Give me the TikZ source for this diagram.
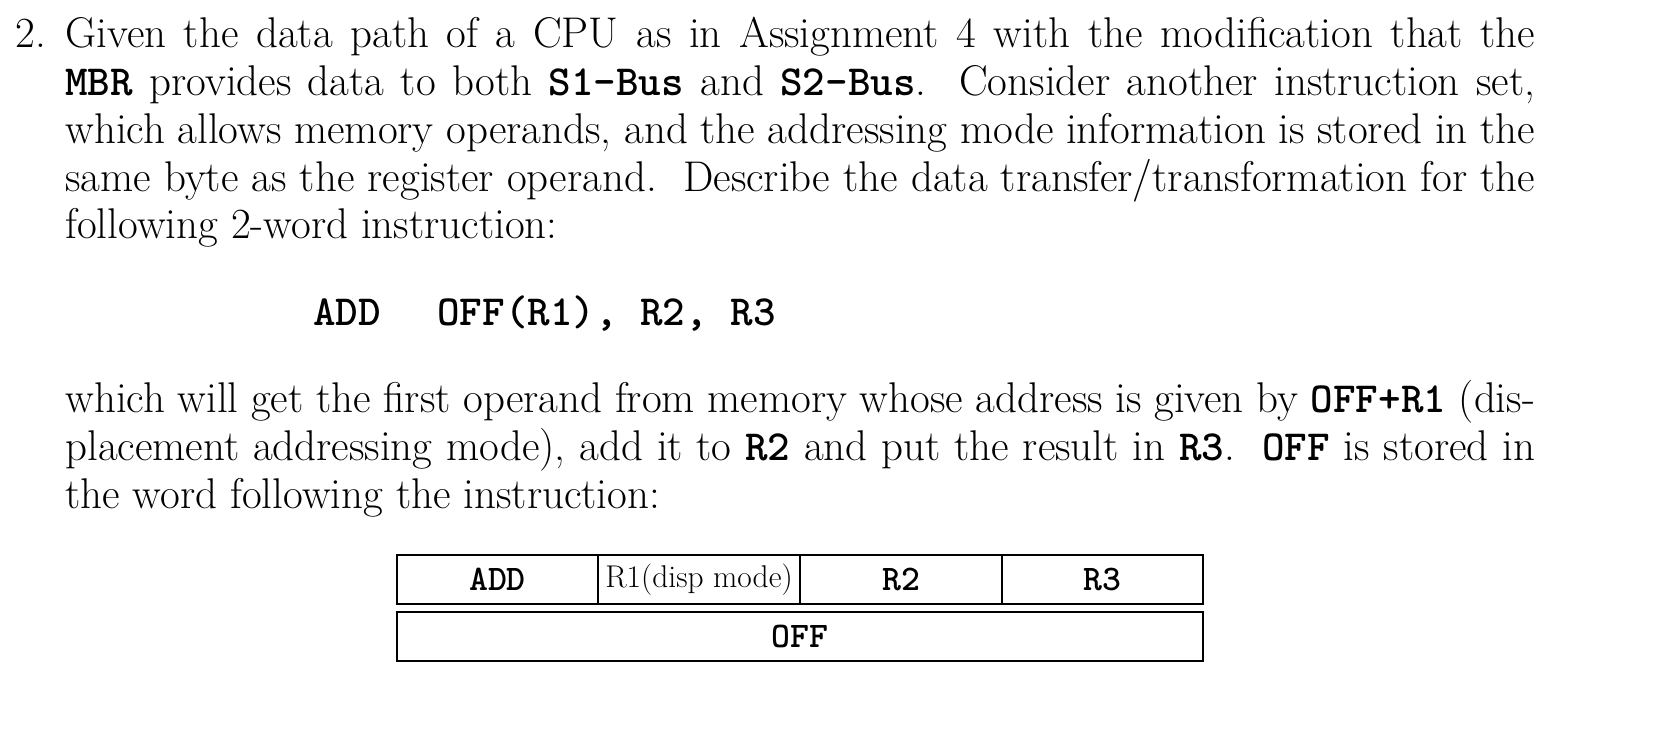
\documentclass[tikz,border=0pt]{standalone}
\begin{document}
\begin{tikzpicture}[x=0.5307pt,y=0.5307pt,
  ln/.style={anchor=base west,inner sep=0pt,font=\fontsize{22.8}{25.5}\selectfont},
  cell/.style={draw,line width=0.65pt,inner sep=0pt},
  ct/.style={font=\fontsize{19.1}{21}\selectfont\ttfamily\bfseries}]
\useasboundingbox (0,0) rectangle (1664,-734);
\newcommand{\tb}[1]{\texttt{\textbf{#1}}}
\newcommand{\jl}[1]{\hbox to 780pt{#1}}
\node[ln] (n) at (15,-47) {2.};
\node[ln] (l1) at (65,-47) {\jl{Given the data path of a CPU as in Assignment 4 with the modification that the}};
\node[ln] (l2) at (65,-95) {\jl{\tb{MBR} provides data to both \tb{S1-Bus} and \tb{S2-Bus}.\ \ Consider another instruction set,}};
\node[ln] (l3) at (65,-143) {\jl{which allows memory operands, and the addressing mode information is stored in the}};
\node[ln] (l4) at (65,-191) {\jl{same byte as the register operand.\ \ Describe the data transfer/transformation for the}};
\node[ln] (l5) at (65,-238) {following 2-word instruction:};
\node[ln] (a1) at (313,-325) {\tb{ADD}};
\node[ln] (a2) at (437,-325) {\tb{OFF(R1), R2, R3}};
\node[ln] (p1) at (65,-412) {\jl{which will get the first operand from memory whose address is given by \tb{OFF+R1} (dis-}};
\node[ln] (p2) at (65,-460) {\jl{placement addressing mode), add it to \tb{R2} and put the result in \tb{R3}.\ \ \tb{OFF} is stored in}};
\node[ln] (p3) at (65,-508) {the word following the instruction:};
\draw[cell] (397,-555) rectangle (1203,-604);
\draw[cell] (397,-612) rectangle (1203,-661);
\draw[line width=0.65pt] (598,-555) -- (598,-604) (800,-555) -- (800,-604) (1002,-555) -- (1002,-604);
\node[ct] (c1) at (497.5,-579.5) {ADD};
\node[font=\fontsize{16.7}{18}\selectfont,inner sep=0pt] (c2) at (699,-579.5) {R1(disp mode)};
\node[ct] (c3) at (901,-579.5) {R2};
\node[ct] (c4) at (1102.5,-579.5) {R3};
\node[ct] (c5) at (800,-636.5) {OFF};
\end{tikzpicture}
\end{document}
